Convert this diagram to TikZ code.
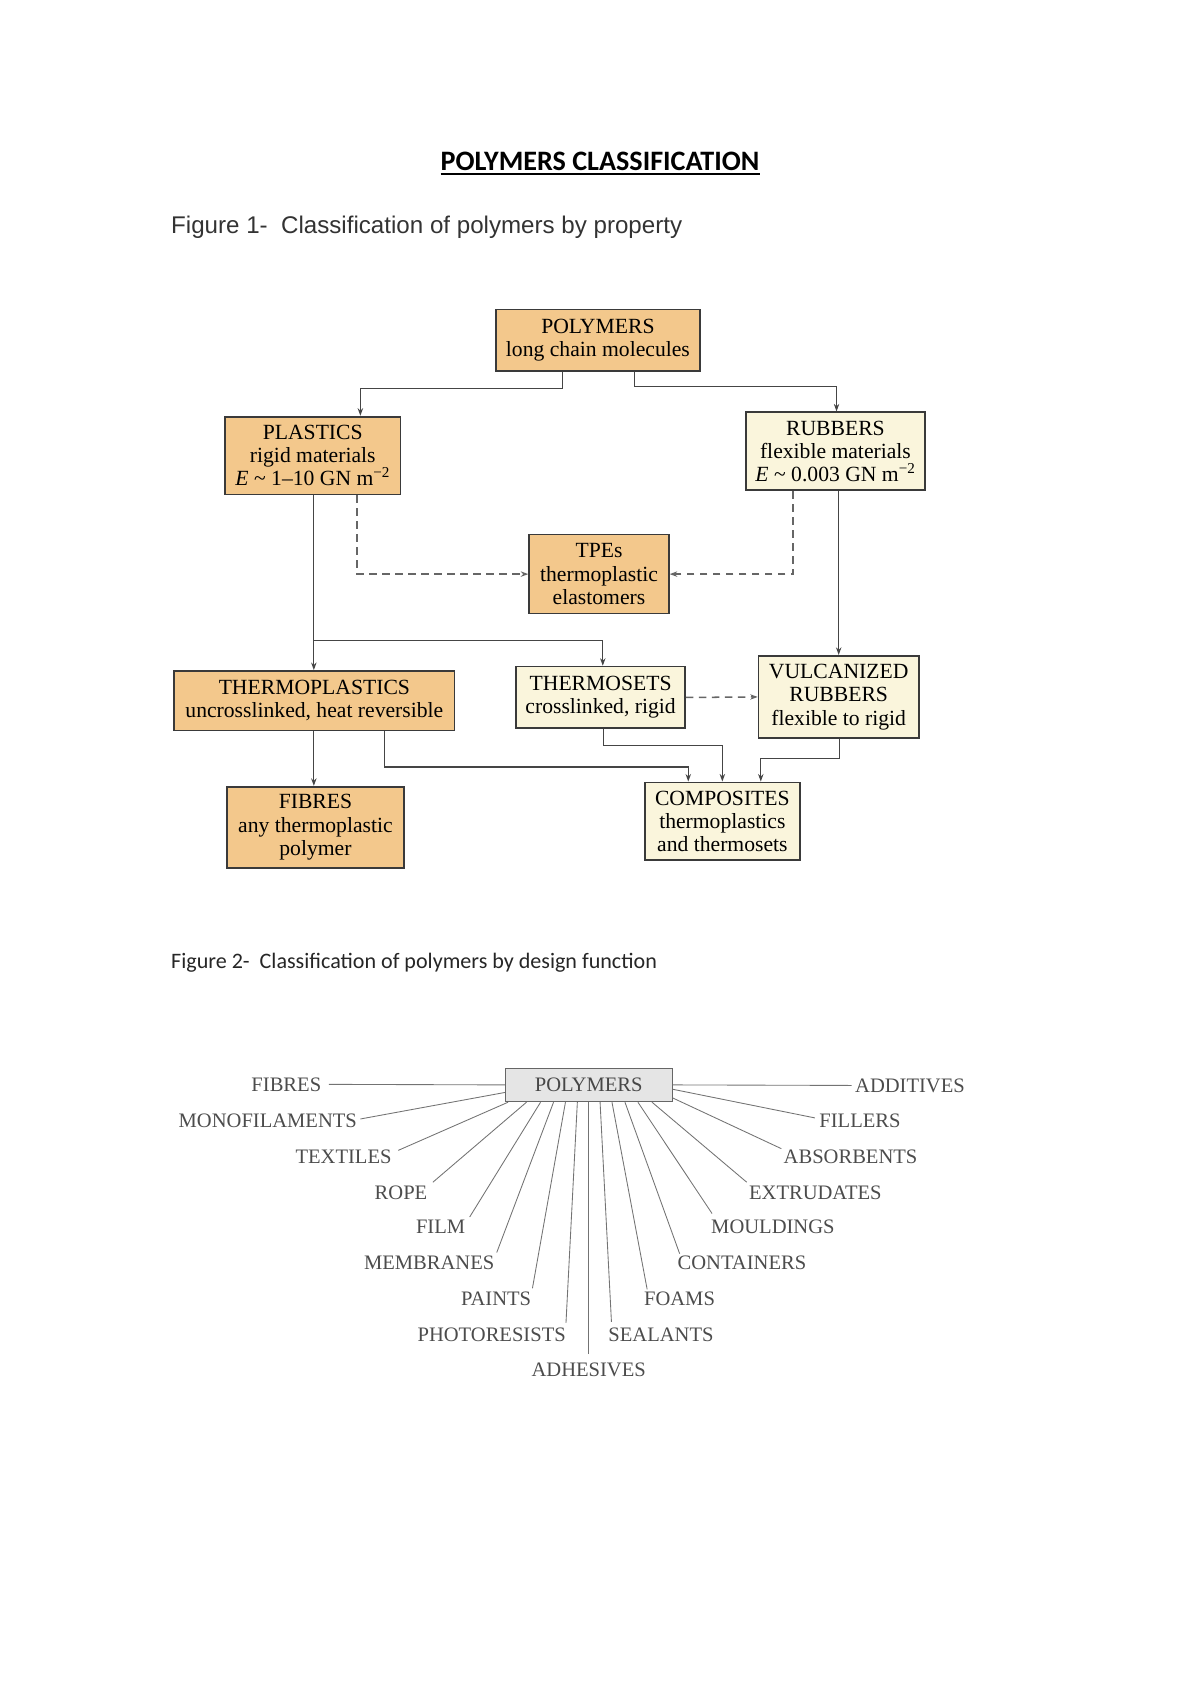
\documentclass[tikz,border=0pt]{standalone}
\usepackage{fontspec}
\setmainfont{Liberation Serif}
\newfontfamily\calibrifont{Carlito}
\newfontfamily\arialfont{Liberation Sans}
\usetikzlibrary{arrows.meta}
\definecolor{boxor}{HTML}{F3C88C}
\definecolor{boxcr}{HTML}{FAF5DC}
\definecolor{edgecol}{HTML}{3A3A3A}
\definecolor{conncol}{HTML}{454545}
\begin{document}
\begin{tikzpicture}[x=1pt,y=-1pt,
  box/.style={draw=edgecol,line width=1.6pt,inner sep=0pt,align=center,
    font=\fontsize{20}{21.5}\selectfont,text=black},
  orbox/.style={box,fill=boxor},
  crbox/.style={box,fill=boxcr},
  arr/.style={draw=conncol,line width=1.1pt,-{Stealth[length=7pt,width=5pt]}},
  darr/.style={arr,draw=black!60,line width=2pt,dash pattern=on 7pt off 5pt},
  lab/.style={font=\fontsize{19}{19}\selectfont,text=black!70,inner sep=0pt},
  fan/.style={draw=black!55,line width=0.8pt}]
\useasboundingbox (0,0) rectangle (1108.8,1567.2);

% ---------- headings ----------
\node[font=\calibrifont\bfseries\fontsize{26}{26}\selectfont,inner sep=0pt,anchor=base] (title) at (554.5,158) {POLYMERS CLASSIFICATION};
\draw[line width=1.6pt] ([yshift=-3pt]title.base west) -- ([yshift=-3pt]title.base east);
\node[font=\arialfont\fontsize{22.3}{22.3}\selectfont,inner sep=0pt,anchor=base west,text=black!80] (cap1) at (158,216) {Figure 1-~ Classification of polymers by property};
\node[font=\calibrifont\fontsize{20.4}{20.4}\selectfont,inner sep=0pt,anchor=base west,text=black!85] (cap2) at (158,894.5) {Figure 2-~ Classification of polymers by design function};

% ---------- figure 1 ----------
\node[orbox,minimum width=189pt,minimum height=57pt] (poly) at (552.5,314.5) {POLYMERS\\long chain molecules};
\node[orbox,minimum width=162pt,minimum height=72pt] (plas) at (289,421) {PLASTICS\\rigid materials\\\textit{E} \textasciitilde{} 1–10 GN m\textsuperscript{−2}};
\node[crbox,minimum width=166pt,minimum height=72pt] (rub) at (772,417) {RUBBERS\\flexible materials\\\textit{E} \textasciitilde{} 0.003 GN m\textsuperscript{−2}};
\node[orbox,minimum width=129pt,minimum height=73pt] (tpe) at (553.5,530.5) {TPEs\\thermoplastic\\elastomers};
\node[orbox,minimum width=259pt,minimum height=55pt] (tpl) at (290.5,647.5) {THERMOPLASTICS\\uncrosslinked, heat reversible};
\node[crbox,minimum width=156pt,minimum height=57pt] (tset) at (555,644.5) {THERMOSETS\\crosslinked, rigid};
\node[crbox,minimum width=148pt,minimum height=76pt] (vulc) at (775,644) {VULCANIZED\\RUBBERS\\flexible to rigid};
\node[orbox,minimum width=163pt,minimum height=75pt] (fib) at (291.5,764.5) {FIBRES\\any thermoplastic\\polymer};
\node[crbox,minimum width=143pt,minimum height=72pt] (comp) at (667.5,759) {COMPOSITES\\thermoplastics\\and thermosets};

\draw[arr] ([xshift=-32.5pt]poly.south) -- ++(0,15) -| ([xshift=44pt]plas.north);
\draw[arr] ([xshift=33.5pt]poly.south) -- ++(0,13) -| ([xshift=1pt]rub.north);
\draw[darr] ([xshift=41pt]plas.south) |- (tpe.west);
\draw[darr] ([xshift=-39pt]rub.south) |- (tpe.east);
\draw[arr] ([xshift=1pt]plas.south) -- ([xshift=-0.5pt]tpl.north);
\coordinate (br) at (290,592);
\draw[arr] (br) -| ([xshift=2pt]tset.north);
\draw[arr] ([xshift=3pt]rub.south) -- (vulc.north);
\draw[darr,line width=1.4pt] (tset.east) -- (vulc.west);
\draw[arr] ([xshift=-0.5pt]tpl.south) -- ([xshift=-1.5pt]fib.north);
\draw[arr] ([xshift=64.5pt]tpl.south) -- ++(0,33) -| ([xshift=-31.5pt]comp.north);
\draw[arr] ([xshift=3pt]tset.south) -- ++(0,15) -| (comp.north);
\draw[arr] ([xshift=1pt]vulc.south) -- ++(0,18) -| ([xshift=35.5pt]comp.north);

% ---------- figure 2 ----------
\node[draw=black!60,fill=black!10,line width=1pt,minimum width=154pt,minimum height=31pt,inner sep=0pt,
  font=\fontsize{19}{19}\selectfont,text=black!72] (p2) at (544,1002.5) {POLYMERS};

\node[lab,anchor=east] (fibres) at (297,1002) {FIBRES};
\node[lab,anchor=east] (mono) at (330,1036) {MONOFILAMENTS};
\node[lab,anchor=east] (textiles) at (362,1069) {TEXTILES};
\node[lab,anchor=east] (rope) at (395,1102) {ROPE};
\node[lab,anchor=east] (film) at (430,1134) {FILM};
\node[lab,anchor=east] (membr) at (457,1167) {MEMBRANES};
\node[lab,anchor=east] (paints) at (491,1200) {PAINTS};
\node[lab,anchor=east] (photo) at (523,1233) {PHOTORESISTS};
\node[lab] (adh) at (544,1266) {ADHESIVES};
\node[lab,anchor=west] (seal) at (562,1233) {SEALANTS};
\node[lab,anchor=west] (foams) at (595,1200) {FOAMS};
\node[lab,anchor=west] (contain) at (626,1167) {CONTAINERS};
\node[lab,anchor=west] (mould) at (657,1134) {MOULDINGS};
\node[lab,anchor=west] (extr) at (692,1102) {EXTRUDATES};
\node[lab,anchor=west] (absorb) at (724,1069) {ABSORBENTS};
\node[lab,anchor=west] (fillers) at (757,1036) {FILLERS};
\node[lab,anchor=west] (addit) at (790,1003) {ADDITIVES};

\draw[fan] ([xshift=7pt]fibres.east) -- (p2.west);
\draw[fan] ([xshift=3pt,yshift=2pt]mono.east) -- ([yshift=-7pt]p2.west);
\draw[fan] ([xshift=6pt,yshift=6pt]textiles.east) -- ([xshift=3pt]p2.south west);
\draw[fan] ([xshift=5pt,yshift=3pt]rope.north east) -- ([xshift=20pt]p2.south west);
\draw[fan] ([xshift=4pt,yshift=3pt]film.north east) -- ([xshift=33pt]p2.south west);
\draw[fan] ([xshift=2pt,yshift=3pt]membr.north east) -- ([xshift=45pt]p2.south west);
\draw[fan] ([xshift=1pt,yshift=3pt]paints.north east) -- ([xshift=56pt]p2.south west);
\draw[fan] ([xshift=0pt,yshift=4pt]photo.north east) -- ([xshift=67pt]p2.south west);
\draw[fan] ([yshift=8pt]adh.north) -- (p2.south);
\draw[fan] ([xshift=3pt,yshift=5pt]seal.north west) -- ([xshift=88pt]p2.south west);
\draw[fan] ([xshift=3pt,yshift=2pt]foams.north west) -- ([xshift=99pt]p2.south west);
\draw[fan] ([xshift=2pt,yshift=2pt]contain.north west) -- ([xshift=111pt]p2.south west);
\draw[fan] ([xshift=1pt,yshift=6pt]mould.north west) -- ([xshift=123pt]p2.south west);
\draw[fan] ([xshift=-2pt,yshift=3pt]extr.north west) -- ([xshift=136pt]p2.south west);
\draw[fan] ([xshift=-2pt,yshift=1pt]absorb.north west) -- ([yshift=-12pt]p2.east);
\draw[fan] ([xshift=-4pt,yshift=3pt]fillers.west) -- ([yshift=-4pt]p2.east);
\draw[fan] (p2.east) -- ([xshift=-3pt]addit.west);
\end{tikzpicture}
\end{document}
